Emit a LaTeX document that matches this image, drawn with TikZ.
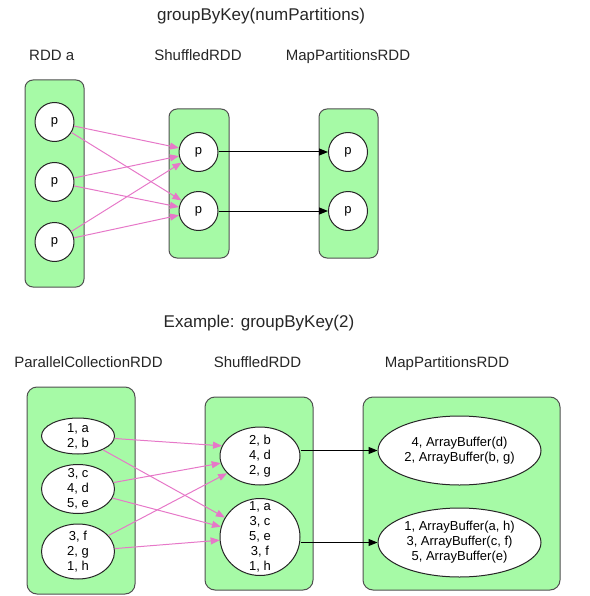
\documentclass[tikz,border=0pt]{standalone}
\usepackage{fontspec}
\setmainfont{Liberation Sans}
\usetikzlibrary{arrows.meta,shapes.geometric}
\definecolor{rddgreen}{RGB}{166,250,166}
\definecolor{shufpink}{RGB}{230,120,200}
\definecolor{boxgray}{RGB}{80,80,80}
\tikzset{
  rdd/.style={draw=boxgray, fill=rddgreen, rounded corners=8pt, line width=1pt, inner sep=0pt},
  part/.style={circle, draw=black!85, fill=white, line width=1pt, minimum size=39pt, inner sep=0pt, font=\fontsize{13}{15}\selectfont},
  rec/.style={ellipse, draw=black!85, fill=white, line width=1pt, inner sep=0pt},
  rectext/.style={align=center, font=\fontsize{13}{15}\selectfont, inner sep=0pt},
  shuf/.style={draw=shufpink, line width=1pt, -{Triangle[length=9pt,width=7pt]}},
  flow/.style={draw=black, line width=1pt, -{Triangle[length=9pt,width=7pt]}},
  hdr/.style={anchor=base, font=\fontsize{15}{18}\selectfont, text=black!85},
  ttl/.style={anchor=base, font=\fontsize{17}{20}\selectfont, text=black!85}
}
\begin{document}
\begin{tikzpicture}[x=1pt, y=-1pt, line join=round]
  \useasboundingbox (0,0) rectangle (589,596);

  % groupByKey(numPartitions)
  \node[ttl] (title) at (261,21) {groupByKey(numPartitions)};
  \node[hdr] (hdra) at (51.7,61) {RDD a};
  \node[hdr] (hdrs) at (198,61) {ShuffledRDD};
  \node[hdr] (hdrm) at (348,61) {MapPartitionsRDD};

  \node[rdd, minimum width=59pt, minimum height=207pt] (rdda) at (54.5,183.5) {};
  \node[rdd, minimum width=60pt, minimum height=149pt] (shufa) at (199,183.5) {};
  \node[rdd, minimum width=59pt, minimum height=149pt] (mapa) at (348.5,183.5) {};

  \foreach \i/\y in {1/122, 2/182, 3/242}
    \node[part] (a\i) at (54.5,\y) {p};
  \foreach \i/\y in {1/152, 2/211} {
    \node[part] (s\i) at (198.5,\y) {p};
    \node[part] (m\i) at (348,\y) {p};
  }

  \foreach \i in {1,2,3}
    \foreach \j in {1,2}
      \draw[shuf] (a\i) -- (s\j);
  \draw[flow] (s1) -- (m1);
  \draw[flow] (s2) -- (m2);

  % Example: groupByKey(2)
  \node[ttl] (extitle) at (259,327) {Example: groupByKey(2)};
  \node[hdr] (hdrpc) at (88.5,367) {ParallelCollectionRDD};
  \node[hdr] (hdrsb) at (257.5,367) {ShuffledRDD};
  \node[hdr] (hdrmb) at (447,367) {MapPartitionsRDD};

  \node[rdd, rounded corners=10pt, minimum width=108pt, minimum height=207pt] (pcrdd) at (81,490.5) {};
  \node[rdd, rounded corners=10pt, minimum width=108pt, minimum height=193pt] (shufb) at (259,493.5) {};
  \node[rdd, rounded corners=10pt, minimum width=197pt, minimum height=193pt] (mapb) at (461.5,493.5) {};

  \node[rec, minimum width=73pt, minimum height=36pt] (e1) at (78,436) {};
  \node[rec, minimum width=73pt, minimum height=49pt] (e2) at (78,489) {};
  \node[rec, minimum width=73pt, minimum height=55pt] (e3) at (78,551.5) {};
  \node[rectext] (e1t) at (e1) {1, a\\2, b};
  \node[rectext] (e2t) at (e2) {3, c\\4, d\\5, e};
  \node[rectext] (e3t) at (e3) {3, f\\2, g\\1, h};

  \node[rec, minimum width=80pt, minimum height=58pt] (r1) at (260,456) {};
  \node[rec, minimum width=80pt, minimum height=77pt] (r2) at (260,537) {};
  \node[rectext] (r1t) at (r1) {2, b\\4, d\\2, g};
  \node[rectext] (r2t) at (r2) {1, a\\3, c\\5, e\\3, f\\1, h};

  \node[rec, minimum width=163pt, minimum height=69pt] (g1) at (459.5,450.5) {};
  \node[rec, minimum width=163pt, minimum height=69pt] (g2) at (459.5,542.5) {};
  \node[rectext] (g1t) at (g1) {4, ArrayBuffer(d)\\2, ArrayBuffer(b, g)};
  \node[rectext] (g2t) at (g2) {1, ArrayBuffer(a, h)\\3, ArrayBuffer(c, f)\\5, ArrayBuffer(e)};

  \draw[shuf] (e1) -- (r1.165);
  \draw[shuf] (e1) -- (r2);
  \draw[shuf] (e2) -- (r1);
  \draw[shuf] (e2) -- (r2);
  \draw[shuf] (e3) -- (r1);
  \draw[shuf] (e3) -- (r2);
  \draw[flow] (r1.east |- g1.west) -- (g1.west);
  \draw[flow] (r2.east |- g2.west) -- (g2.west);
\end{tikzpicture}
\end{document}
